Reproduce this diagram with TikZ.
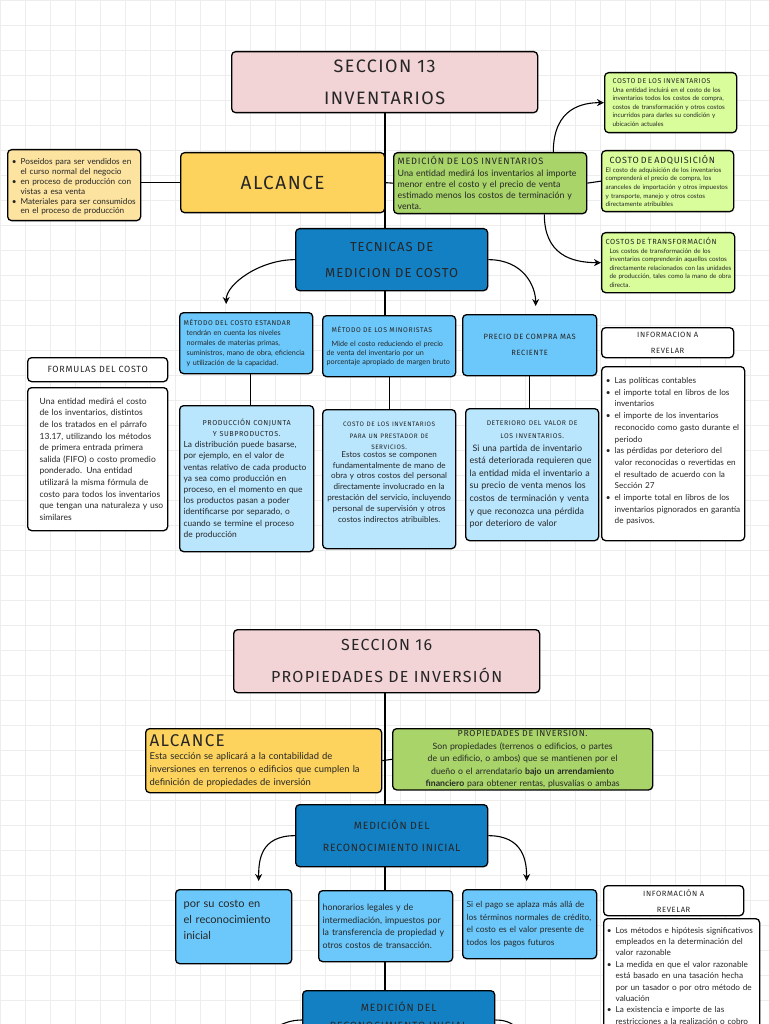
\documentclass[tikz,border=0pt]{standalone}
\usepackage{fontspec}
\setmainfont{Lato}
\newfontfamily\hd{Fira Sans}[LetterSpace=8]
\usetikzlibrary{arrows.meta,positioning}
\definecolor{pinkb}{HTML}{F2D4D7}
\definecolor{yel}{HTML}{FDD35D}
\definecolor{lyel}{HTML}{FCE3A0}
\definecolor{grn}{HTML}{A8D46A}
\definecolor{lgrn}{HTML}{D9FD9A}
\definecolor{dblue}{HTML}{1480C4}
\definecolor{mblue}{HTML}{6CC8FA}
\definecolor{lblue}{HTML}{B9E5FD}
\newcommand{\bx}[7]{% name, style, x1,y1,x2,y2, text
  \node[box,#2,anchor=north west,minimum width={(#5-#3)*1pt},minimum height={(#6-#4)*1pt},text width={(#5-#3-8)*1pt}] (#1) at (#3,-#4) {#7};}
\tikzset{
  box/.style={draw=black,line width=1.3pt,rounded corners=4pt,inner sep=3pt,align=left,text=black!85,execute at begin node={\hyphenpenalty=10000\exhyphenpenalty=10000}},
  conn/.style={line width=1.1pt},
  arr/.style={conn,-{Stealth[length=7pt,width=7pt,open]}},
}
\newcommand{\bl}[1]{\begin{list}{\textbullet}{\setlength{\leftmargin}{9pt}\setlength{\itemsep}{0pt}\setlength{\topsep}{0pt}\setlength{\parsep}{0pt}\setlength{\labelsep}{4pt}\setlength{\labelwidth}{5pt}}#1\end{list}}
\begin{document}
\begin{tikzpicture}[x=1pt,y=1pt]
\useasboundingbox (0,0) rectangle (768,-1024);
\fill[white] (0,0) rectangle (768,-1024);
\draw[black!7,line width=0.5pt,step=25] (0,-1024) grid (775,0);
\coordinate (tr) at (385,0);
% ---------- SECCION 13
\bx{t1}{fill=pinkb,align=center,font=\hd\fontsize{18}{32}\selectfont}{231}{51}{537}{112}{SECCION 13\\INVENTARIOS}
\bx{alc}{fill=yel,align=center,font=\hd\fontsize{19}{20}\selectfont}{180}{152}{384}{212}{ALCANCE}
\bx{alcb}{fill=lyel,font=\fontsize{8.2}{9.8}\selectfont}{7}{149}{140}{220}{\bl{\item Poseidos para ser vendidos en el curso normal del negocio \item en proceso de producción con vistas a esa venta \item Materiales para ser consumidos en el proceso de producción}}
\bx{med}{fill=grn,font=\fontsize{8.8}{11.2}\selectfont}{393}{152}{586}{213}{{\hd\fontsize{9.2}{10}\selectfont MEDICIÓN DE LOS INVENTARIOS}\\Una entidad medirá los inventarios al importe menor entre el costo y el precio de venta estimado menos los costos de terminación y venta.}
\bx{ci}{fill=lgrn,font=\fontsize{6.3}{8.6}\selectfont}{604}{72}{736}{132}{{\hd\fontsize{7}{8}\selectfont \hspace*{4pt}COSTO DE LOS INVENTARIOS}\\\hspace*{4pt}\parbox[t]{120pt}{Una entidad incluirá en el costo de los inventarios todos los costos de compra, costos de transformación y otros costos incurridos para darles su condición y ubicación actuales}}
\bx{ca}{fill=lgrn,font=\fontsize{6.3}{8.6}\selectfont}{601}{150}{733}{211}{{\hd\fontsize{9}{9}\selectfont \hspace*{4pt}COSTO DE ADQUISICIÓN}\\El costo de adquisición de los inventarios comprenderá el precio de compra, los aranceles de importación y otros impuestos y transporte, manejo y otros costos directamente atribuibles}
\bx{ct}{fill=lgrn,font=\fontsize{6.3}{8.6}\selectfont}{601}{232}{734}{292}{{\hd\fontsize{7.4}{8}\selectfont COSTOS DE TRANSFORMACIÓN}\\\hspace*{4pt}\parbox[t]{122pt}{Los costos de transformación de los inventarios comprenderán aquellos costos directamente relacionados con las unidades de producción, tales como la mano de obra directa.}}
\bx{tec}{fill=dblue,align=center,font=\hd\fontsize{13}{26}\selectfont}{295}{228}{487}{290}{TECNICAS DE\\MEDICION DE COSTO}
\bx{est}{fill=mblue,font=\fontsize{7.2}{9.9}\selectfont,inner sep=2pt}{179}{312}{312}{373}{{\hd\fontsize{6.9}{7}\selectfont MÉTODO DEL COSTO ESTANDAR}\\\hspace*{3pt}\parbox[t]{120pt}{tendrán en cuenta los niveles normales de materias primas, suministros, mano de obra, eficiencia y utilización de la capacidad.}}
\bx{min}{fill=mblue,font=\fontsize{7.2}{9.2}\selectfont}{322}{315}{455}{376}{{\hd\fontsize{6.9}{12}\selectfont \hspace*{5pt}MÉTODO DE LOS MINORISTAS}\\[4pt]\hspace*{5pt}Mide el costo reduciendo el precio de venta del inventario por un porcentaje apropiado de margen bruto}
\bx{pre}{fill=mblue,align=center,font=\hd\fontsize{7.6}{16}\selectfont}{462}{314}{596}{375}{PRECIO DE COMPRA MAS\\RECIENTE}
\bx{ir}{fill=white,align=center,font=\hd\fontsize{7.6}{16}\selectfont}{601}{327}{733}{357}{INFORMACION A\\REVELAR}
\bx{irb}{fill=white,font=\fontsize{8.2}{11.7}\selectfont,anchor=north west}{601}{366}{744}{540}{\vspace{0pt}\bl{\item Las políticas contables \item el importe total en libros de los inventarios \item el importe de los inventarios reconocido como gasto durante el periodo \item las pérdidas por deterioro del valor reconocidas o revertidas en el resultado de acuerdo con la Sección 27 \item el importe total en libros de los inventarios pignorados en garantía de pasivos.}\vspace{10pt}}
\bx{fh}{fill=white,align=center,font=\hd\fontsize{9}{9}\selectfont}{27}{357}{167}{381}{FORMULAS DEL COSTO}
\bx{ft}{fill=white,font=\fontsize{8.5}{11.6}\selectfont}{27}{387}{167}{530}{\hspace*{8pt}\parbox[t]{124pt}{Una entidad medirá el costo de los inventarios, distintos de los tratados en el párrafo 13.17, utilizando los métodos de primera entrada primera salida (FIFO) o costo promedio ponderado. Una entidad utilizará la misma fórmula de costo para todos los inventarios que tengan una naturaleza y uso similares}}
\bx{pc}{fill=lblue,font=\fontsize{8.4}{11.2}\selectfont}{179}{405}{313}{551}{\centering{\hd\fontsize{7.2}{12}\selectfont PRODUCCIÓN CONJUNTA\\Y SUBPRODUCTOS.}\par\raggedright La distribución puede basarse, por ejemplo, en el valor de ventas relativo de cada producto ya sea como producción en proceso, en el momento en que los productos pasan a poder identificarse por separado, o cuando se termine el proceso de producción}
\bx{ps}{fill=lblue,align=center,font=\fontsize{8.1}{10.8}\selectfont}{322}{409}{455}{548}{{\hd\fontsize{6.4}{12}\selectfont COSTO DE LOS INVENTARIOS\\PARA UN PRESTADOR DE\\SERVICIOS.}\\[-3pt]Estos costos se componen fundamentalmente de mano de obra y otros costos del personal directamente involucrado en la prestación del servicio, incluyendo personal de supervisión y otros costos indirectos atribuibles.\vspace{14pt}}
\bx{det}{fill=lblue,font=\fontsize{8.9}{12.6}\selectfont}{465}{408}{598}{540}{\centering{\hd\fontsize{6.8}{13}\selectfont DETERIORO DEL VALOR DE\\LOS INVENTARIOS.}\par\raggedright\ Si una partida de inventario está deteriorada requieren que la entidad mida el inventario a su precio de venta menos los costos de terminación y venta y que reconozca una pérdida por deterioro de valor}
% connectors 13
\draw[conn] (tr |- t1.south) -- (tr |- tec.north);
\draw[conn] (alcb.east |- alc.west) -- (alc.west);
\draw[conn] (alc.east) -- (med.west);
\draw[conn] (med.east) -- (ca.west);
\draw[arr] ([xshift=-34pt]med.north east) .. controls +(0,45) and +(-20,0) .. (ci.west);
\draw[arr] ([xshift=-43pt]med.south east) .. controls +(0,-40) and +(-30,0) .. (ct.west);
\draw[arr] (tec.west) .. controls +(-35,0) and +(0,20) .. ([xshift=-20pt,yshift=8pt]est.north);
\draw[arr] (tec.east) .. controls +(35,0) and +(0,20) .. ([xshift=6pt,yshift=8pt]pre.north);
\draw[conn] (tr |- tec.south) -- (tr |- min.north);
\draw[conn] ([xshift=4pt]est.south) -- ([xshift=4pt]est.south |- pc.north);
\draw[conn] (min.south) -- (min.south |- ps.north);
\draw[conn] (pre.south) -- (pre.south |- det.north);
% ---------- SECCION 16
\bx{t2}{fill=pinkb,align=center,font=\hd\fontsize{16}{32}\selectfont}{233}{629}{539}{692}{SECCION 16\\PROPIEDADES DE INVERSIÓN}
\bx{alc2}{fill=yel,font=\fontsize{9.4}{13}\selectfont,inner sep=2pt}{145}{728}{381}{792}{{\hd\fontsize{17}{14}\selectfont ALCANCE}\\Esta sección se aplicará a la contabilidad de inversiones en terrenos o edificios que cumplen la definición de propiedades de inversión}
\bx{pro}{fill=grn,align=center,font=\fontsize{8.7}{12.4}\selectfont,inner sep=2pt}{392}{728}{652}{789}{{\hd\fontsize{8.8}{9}\selectfont PROPIEDADES DE INVERSION.}\\Son propiedades (terrenos o edificios, o partes de un edificio, o ambos) que se mantienen por el dueño o el arrendatario \textbf{bajo un arrendamiento financiero} para obtener rentas, plusvalías o ambas}
\bx{mri}{fill=dblue,align=center,font=\hd\fontsize{10.5}{22}\selectfont}{295}{804}{487}{866}{MEDICIÓN DEL\\RECONOCIMIENTO INICIAL}
\bx{psc}{fill=mblue,font=\fontsize{11}{16}\selectfont}{175}{889}{291}{963}{\hspace*{4pt}\parbox[t]{100pt}{por su costo en el reconocimiento inicial}\vspace{14pt}}
\bx{hon}{fill=mblue,font=\fontsize{8.8}{12.6}\selectfont,inner sep=2pt}{318}{890}{452}{961}{honorarios legales y de intermediación, impuestos por la transferencia de propiedad y otros costos de transacción.}
\bx{sip}{fill=mblue,font=\fontsize{8.4}{12.4}\selectfont}{462}{889}{596}{958}{Si el pago se aplaza más allá de los términos normales de crédito, el costo es el valor presente de todos los pagos futuros}
\bx{ir2}{fill=white,align=center,font=\hd\fontsize{7.6}{16}\selectfont}{603}{885}{743}{915}{INFORMACIÓN A\\REVELAR}
\node[box,fill=white,anchor=north west,text width=150pt,font=\fontsize{8.2}{11.4}\selectfont] (irb2) at (603,-918) {\bl{\item Los métodos e hipótesis significativos empleados en la determinación del valor razonable \item La medida en que el valor razonable está basado en una tasación hecha por un tasador o por otro método de valuación \item La existencia e importe de las restricciones a la realización o cobro de ingresos}};
\node[box,fill=dblue,anchor=north west,minimum width=192pt,minimum height=50pt,text width=184pt,align=center,font=\hd\fontsize{10.5}{18}\selectfont] (mr2) at (302,-990) {MEDICIÓN DEL\\RECONOCIMIENTO INICIAL};
\useasboundingbox (0,0) rectangle (768,-1024);
\draw[conn] (tr |- t2.south) -- (tr |- mri.north);
\draw[conn] (alc2.east) -- (pro.west);
\draw[arr] (mri.west) .. controls +(-35,0) and +(0,20) .. ([xshift=25pt,yshift=8pt]psc.north);
\draw[arr] (mri.east) .. controls +(35,0) and +(0,20) .. ([xshift=-3pt,yshift=8pt]sip.north);
\draw[conn] (tr |- mri.south) -- (tr |- hon.north);
\draw[conn] (tr |- hon.south) -- (tr |- mr2.north);
\draw[conn] (mr2.north west) ++(0,-30) .. controls +(-20,0) and +(5,-5) .. (270,-1026);
\draw[conn] (mr2.north east) ++(0,-30) .. controls +(20,0) and +(-5,-5) .. (520,-1026);
\end{tikzpicture}
\end{document}
